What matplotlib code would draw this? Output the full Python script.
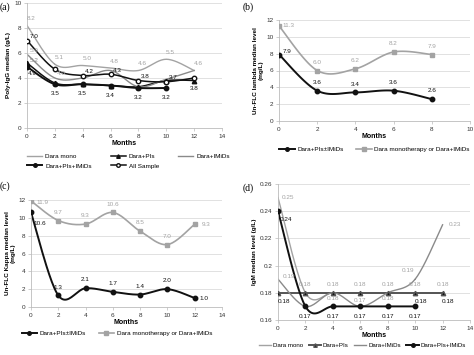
import matplotlib.pyplot as plt
import numpy as np

plt.rcParams["font.family"] = ["Liberation Sans", "DejaVu Sans"]

# ---- data ----
months_a = [0, 2, 4, 6, 8, 10, 12]
igg_mono = [8.2, 5.1, 5.0, 4.8, 4.6, 5.5, 4.6]
igg_imids = [5.9, 4.0, 4.0, 4.6, 3.3, 3.9, 4.6]
igg_pis = [5.2, 3.6, 3.5, 3.4, 3.3, 3.8, 3.8]
igg_pis_imids = [4.9, 3.5, 3.5, 3.4, 3.2, 3.2]
igg_all = [7.0, 4.7, 4.2, 4.3, 3.8, 3.7, 4.0]

months_b = [0, 2, 4, 6, 8]
lam_pis = [7.9, 3.6, 3.4, 3.6, 2.6]
lam_mono = [11.3, 6.0, 6.2, 8.2, 7.9]

months_c = [0, 2, 4, 6, 8, 10, 12]
kap_pis = [10.6, 1.3, 2.1, 1.7, 1.4, 2.0, 1.0]
kap_mono = [11.9, 9.7, 9.3, 10.6, 8.5, 7.0, 9.3]

months_d = [0, 2, 4, 6, 8, 10, 12]
igm_mono = [0.25, 0.18, 0.18, 0.18, 0.18, 0.18, 0.18]
igm_pis = [0.18, 0.18, 0.18, 0.18, 0.18, 0.18, 0.18]
igm_imids = [0.19, 0.17, 0.18, 0.17, 0.18, 0.19, 0.23]
igm_pis_imids = [0.24, 0.17, 0.17, 0.17, 0.17, 0.17]

BLACK = "#111111"
GREY = "#a3a3a3"
GREY2 = "#8a8a8a"
FS = 4.6


def smooth(x, y, n=24):
    # catmull-rom through the data points (like excel's smoothed line)
    y = np.asarray(y, float)
    x = np.asarray(x, float)[:len(y)]
    px = np.concatenate([[x[0]], x, [x[-1]]])
    py = np.concatenate([[y[0]], y, [y[-1]]])
    t = np.linspace(0, 1, n)[:, None]
    xs, ys = [], []
    for i in range(1, len(px) - 2):
        p = np.array([[px[i - 1], py[i - 1]], [px[i], py[i]],
                      [px[i + 1], py[i + 1]], [px[i + 2], py[i + 2]]])
        seg = 0.5 * ((2 * p[1]) + (-p[0] + p[2]) * t
                     + (2 * p[0] - 5 * p[1] + 4 * p[2] - p[3]) * t ** 2
                     + (-p[0] + 3 * p[1] - 3 * p[2] + p[3]) * t ** 3)
        xs.append(seg[:, 0])
        ys.append(seg[:, 1])
    return np.concatenate(xs), np.concatenate(ys)


def series(ax, x, y, color, marker=None, mfc=None, lw=1.1, ms=3.2, label=None):
    sx, sy = smooth(x, y)
    ax.plot(sx, sy, color=color, lw=lw, zorder=2)
    ax.plot(x[:len(y)], y, ls="none", marker=marker, color=color,
            mfc=mfc or color, mec=color, ms=ms, zorder=3)
    # legend proxy
    h, = ax.plot([], [], color=color, lw=lw, marker=marker, mfc=mfc or color,
                 mec=color, ms=ms * 0.8, label=label)
    return h


def labels(ax, x, y, idx, color, dx=0, dy=4, fmt="{:.1f}"):
    for i in idx:
        ax.annotate(fmt.format(y[i]), (x[i], y[i]), xytext=(dx, dy),
                    textcoords="offset points", ha="center", va="center",
                    fontsize=FS, color=color)


def style(ax, xmax, ylim, yticks, ylabel, fmt=None):
    ax.set_xlim(0, xmax)
    ax.set_ylim(*ylim)
    ax.set_xticks(np.arange(0, xmax + 1, 2))
    ax.set_yticks(yticks)
    if fmt:
        ax.set_yticklabels([fmt(v) for v in yticks])
    ax.grid(axis="y", color="#dcdcdc", lw=0.6)
    ax.set_axisbelow(True)
    for s in ("top", "right"):
        ax.spines[s].set_visible(False)
    for s in ("left", "bottom"):
        ax.spines[s].set_color("#bbbbbb")
        ax.spines[s].set_linewidth(0.6)
    ax.tick_params(labelsize=FS, length=2, width=0.5, color="#bbbbbb", pad=2,
                   labelcolor="#333333")
    ax.set_xlabel("Months", fontsize=FS + 0.4, fontweight="bold", labelpad=1)
    ax.set_ylabel(ylabel, fontsize=FS, fontweight="bold", labelpad=2)


fig = plt.figure(figsize=(4.74, 3.55), dpi=100)
W, H = 474, 355


def rect(l, t, r, b):
    return [l / W, 1 - b / H, (r - l) / W, (b - t) / H]


# ---- (a) ----
ax = fig.add_axes(rect(27, 3, 222, 128))
h1 = series(ax, months_a, igg_mono, GREY, lw=1.0, label="Dara mono")
h2 = series(ax, months_a, igg_pis, BLACK, marker="^", label="Dara+PIs")
h3 = series(ax, months_a, igg_imids, GREY2, lw=1.0, label="Dara+IMiDs")
h4 = series(ax, months_a, igg_pis_imids, BLACK, marker="o", lw=1.4, label="Dara+PIs+IMiDs")
h5 = series(ax, months_a, igg_all, BLACK, marker="o", mfc="white", label="All Sample")
labels(ax, months_a, igg_mono, range(7), GREY, dx=3, dy=5)
labels(ax, months_a, igg_imids, [0, 1], GREY, dx=5, dy=3)
labels(ax, months_a, igg_pis, [0], GREY2, dx=5, dy=2)
labels(ax, months_a, igg_pis, [6], BLACK, dx=0, dy=-6)
labels(ax, months_a, igg_pis_imids, [0], BLACK, dx=4, dy=-5)
labels(ax, months_a, igg_pis_imids, range(1, 6), BLACK, dx=0, dy=-7)
labels(ax, months_a, igg_all, [0, 2, 3, 4, 5], BLACK, dx=5, dy=3)
style(ax, 14, (0, 10), range(0, 11, 2), "Poly-IgG median (g/L)")
# order so the 3-column legend reads row by row
ax.legend([h1, h4, h2, h5, h3], [h.get_label() for h in (h1, h4, h2, h5, h3)],
          loc="upper center", bbox_to_anchor=(0.52, -0.16), ncol=3,
          frameon=False, fontsize=FS, handlelength=2.4, columnspacing=3,
          handletextpad=0.4, labelspacing=0.6)
fig.text(0.0, 1 - 7 / H, "(a)", fontsize=7, family="Liberation Serif", va="center")

# ---- (b) ----
ax = fig.add_axes(rect(279, 20, 470, 121))
series(ax, months_b, lam_pis, BLACK, marker="o", lw=1.4, label="Dara+PIs\u00b1IMiDs")
series(ax, months_b, lam_mono, GREY, marker="s", lw=1.2,
       label="Dara monotherapy or Dara+IMiDs")
labels(ax, months_b, lam_pis, [0], BLACK, dx=6, dy=2)
labels(ax, months_b, lam_pis, range(1, 5), BLACK, dx=0, dy=6)
labels(ax, months_b, lam_mono, [0], GREY, dx=7, dy=0)
labels(ax, months_b, lam_mono, range(1, 5), GREY, dx=0, dy=6)
style(ax, 10, (0, 12), range(0, 13, 2), "Un-FLC lambda median level\n(mg/L)")
ax.legend(loc="upper center", bbox_to_anchor=(0.5, -0.2), ncol=2,
          frameon=False, fontsize=FS, handlelength=2.4, columnspacing=2,
          handletextpad=0.4)
fig.text(243 / W, 1 - 7 / H, "(b)", fontsize=7, family="Liberation Serif", va="center")

# ---- (c) ----
ax = fig.add_axes(rect(31, 200, 222, 307))
series(ax, months_c, kap_pis, BLACK, marker="o", lw=1.4, label="Dara+PIs\u00b1IMiDs")
series(ax, months_c, kap_mono, GREY, marker="s", lw=1.2,
       label="Dara monotherapy or Dara+IMiDs")
labels(ax, months_c, kap_pis, [0], BLACK, dx=6, dy=-8)
labels(ax, months_c, kap_pis, range(1, 6), BLACK, dx=0, dy=6)
labels(ax, months_c, kap_pis, [6], BLACK, dx=7, dy=0)
labels(ax, months_c, kap_mono, [0], GREY, dx=8, dy=-1)
labels(ax, months_c, kap_mono, range(1, 6), GREY, dx=0, dy=6)
labels(ax, months_c, kap_mono, [6], GREY, dx=8, dy=0)
style(ax, 14, (0, 12), range(0, 13, 2), "Un-FLC Kappa median level\n(mg/L)")
ax.legend(loc="upper center", bbox_to_anchor=(0.45, -0.17), ncol=2,
          frameon=False, fontsize=FS, handlelength=2.4, columnspacing=2,
          handletextpad=0.4)
fig.text(0.0, 1 - 186 / H, "(c)", fontsize=7, family="Liberation Serif", va="center")

# ---- (d) ----
ax = fig.add_axes(rect(278, 184, 470, 320))
series(ax, months_d, igm_mono, GREY, lw=1.0, label="Dara mono")
series(ax, months_d, igm_pis, "#555555", marker="^", mfc=BLACK, lw=1.4, label="Dara+PIs")
series(ax, months_d, igm_imids, GREY2, lw=1.0, label="Dara+IMiDs")
series(ax, months_d, igm_pis_imids, BLACK, marker="o", lw=1.4, label="Dara+PIs+IMiDs")
f2 = "{:.2f}"
labels(ax, months_d, igm_mono, [0], GREY, dx=7, dy=0, fmt=f2)
labels(ax, months_d, igm_mono, range(1, 7), GREY, dx=0, dy=6, fmt=f2)
labels(ax, months_d, igm_imids, [0], GREY, dx=8, dy=2, fmt=f2)
labels(ax, months_d, igm_imids, [2, 4], GREY, dx=0, dy=-4, fmt=f2)
labels(ax, months_d, igm_imids, [3], GREY, dx=0, dy=4, fmt=f2)
labels(ax, months_d, igm_imids, [5], GREY, dx=-5, dy=6, fmt=f2)
labels(ax, months_d, igm_imids, [6], GREY, dx=9, dy=0, fmt=f2)
labels(ax, months_d, igm_pis, [0, 5, 6], BLACK, dx=4, dy=-6, fmt=f2)
labels(ax, months_d, igm_pis_imids, [0], BLACK, dx=6, dy=-6, fmt=f2)
labels(ax, months_d, igm_pis_imids, range(1, 6), BLACK, dx=0, dy=-7, fmt=f2)
style(ax, 14, (0.16, 0.26), [0.16, 0.18, 0.2, 0.22, 0.24, 0.26],
      "IgM median level (g/L)", fmt=lambda v: f"{v:g}")
ax.legend(loc="upper center", bbox_to_anchor=(0.44, -0.13), ncol=4,
          frameon=False, fontsize=FS - 0.2, handlelength=2.0, columnspacing=0.9,
          handletextpad=0.3)
fig.text(243 / W, 1 - 188 / H, "(d)", fontsize=7, family="Liberation Serif", va="center")

fig.savefig("out.png", dpi=100)
